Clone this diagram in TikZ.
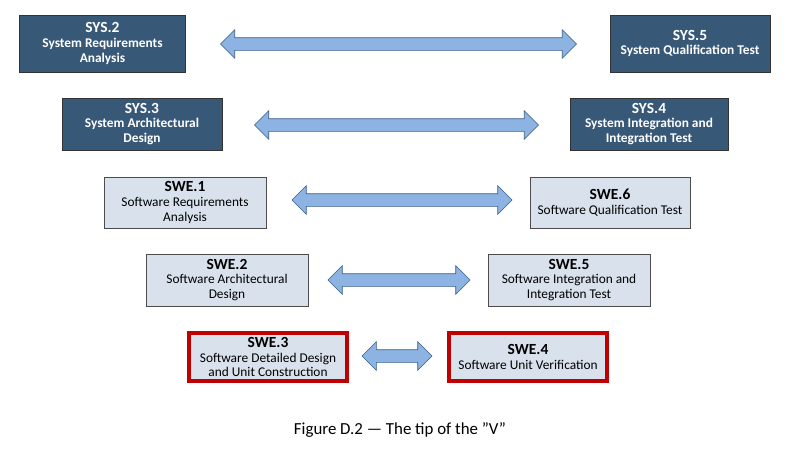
\documentclass[tikz,border=0pt]{standalone}
\usepackage{fontspec}
\setmainfont{Carlito}
\usetikzlibrary{shapes.arrows}
\definecolor{sysblue}{HTML}{385878}
\definecolor{swegray}{HTML}{D9E2EC}
\definecolor{arrfill}{HTML}{8DB3E2}
\definecolor{arredge}{HTML}{3A5F8A}
\definecolor{tipred}{HTML}{C00000}
\begin{document}
\begin{tikzpicture}[x=0.025cm,y=-0.025cm]
\tikzset{
  sys/.style={rectangle, draw=black!80, fill=sysblue, text=white, font=\fontsize{9.5}{10.5}\selectfont\bfseries, align=center, inner sep=0pt},
  swe/.style={rectangle, draw=black!70, fill=swegray, text=black, font=\fontsize{9.5}{10.5}\selectfont, align=center, inner sep=0pt},
  tip/.style={swe, draw=tipred, line width=2.2pt},
  dblarrow/.style={double arrow, draw=arredge, fill=arrfill, thin, inner xsep=0pt, inner ysep=0.15cm, double arrow head extend=0.2cm},
}
\useasboundingbox (0,0) rectangle (800,449);
% System level
\node (sys2) [sys, minimum width=4.15cm, minimum height=1.42cm] at (102.5,43.5) {{\fontsize{11}{12}\selectfont SYS.2}\\System Requirements\\Analysis};
\node (sys5) [sys, minimum width=4cm, minimum height=1.42cm] at (690,43.5) {{\fontsize{11}{12}\selectfont SYS.5}\\System Qualification Test};
\node (sys3) [sys, minimum width=4cm, minimum height=1.3cm] at (142,124) {{\fontsize{11}{12}\selectfont SYS.3}\\System Architectural\\Design};
\node (sys4) [sys, minimum width=3.95cm, minimum height=1.3cm] at (649,124) {{\fontsize{11}{12}\selectfont SYS.4}\\System Integration and\\Integration Test};
% Software level
\node (swe1) [swe, minimum width=4.05cm, minimum height=1.28cm] at (185,202.5) {\textbf{\fontsize{11}{12}\selectfont SWE.1}\\Software Requirements\\Analysis};
\node (swe6) [swe, minimum width=4cm, minimum height=1.28cm] at (610,202.5) {\textbf{\fontsize{11}{12}\selectfont SWE.6}\\Software Qualification Test};
\node (swe2) [swe, minimum width=4.05cm, minimum height=1.3cm] at (227,280) {\textbf{\fontsize{11}{12}\selectfont SWE.2}\\Software Architectural\\Design};
\node (swe5) [swe, minimum width=4.05cm, minimum height=1.3cm] at (569,280) {\textbf{\fontsize{11}{12}\selectfont SWE.5}\\Software Integration and\\Integration Test};
\node (swe3) [tip, minimum width=3.95cm, minimum height=1.2cm] at (268,357) {\textbf{\fontsize{11}{12}\selectfont SWE.3}\\Software Detailed Design\\and Unit Construction};
\node (swe4) [tip, minimum width=3.95cm, minimum height=1.2cm] at (528,357) {\textbf{\fontsize{11}{12}\selectfont SWE.4}\\Software Unit Verification};
% Arrows
\node (a1) [dblarrow, minimum height=8.9cm] at (398.5,44) {};
\node (a2) [dblarrow, minimum height=7.1cm] at (396.5,125) {};
\node (a3) [dblarrow, minimum height=5.5cm] at (402,200) {};
\node (a4) [dblarrow, minimum height=3.55cm] at (399,280) {};
\node (a5) [dblarrow, minimum height=1.75cm] at (397,356) {};
% Caption
\node (cap) [font=\fontsize{12}{14}\selectfont] at (400,430) {Figure D.2 --- The tip of the \symbol{34}V\symbol{34}};
\end{tikzpicture}
\end{document}
